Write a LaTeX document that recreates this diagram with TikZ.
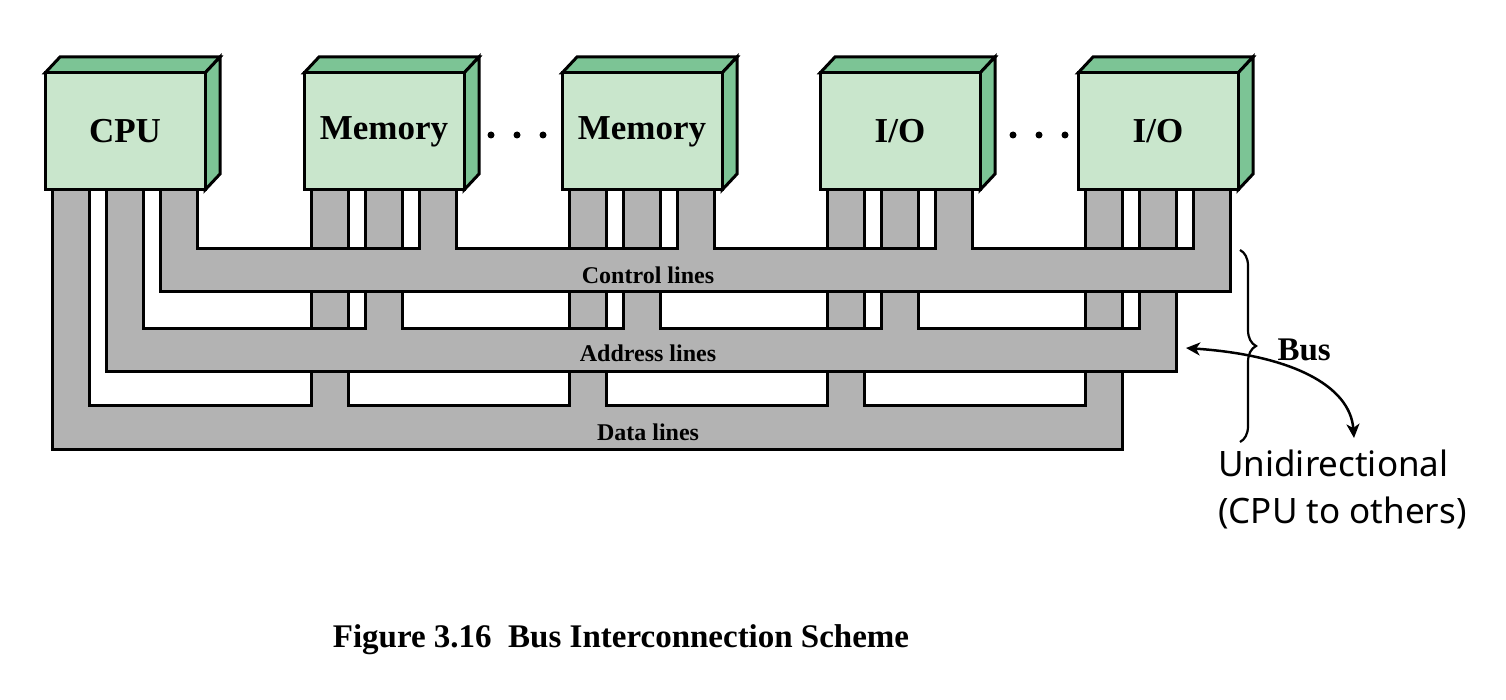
\documentclass[tikz,border=0pt]{standalone}
\usepackage{fontspec}
\setmainfont{Liberation Serif}
\newfontfamily\uni{Noto Sans}
\usetikzlibrary{decorations.pathreplacing,arrows.meta}
\definecolor{front}{HTML}{C9E6CC}
\definecolor{side}{HTML}{7CC495}
\definecolor{busgray}{HTML}{B3B3B3}
\begin{document}
\begin{tikzpicture}[x=1pt,y=-1pt,
  module/.style={draw=black,line width=3pt,fill=front,minimum width=160pt,minimum height=117pt,inner sep=0pt,font=\bfseries\fontsize{35}{35}\selectfont},
  face/.style={draw=black,line width=3pt,fill=side,line join=miter},
  busline/.style={font=\bfseries\fontsize{24}{24}\selectfont},
  dot/.style={circle,fill=black,inner sep=0pt,minimum size=7pt}]
\path[use as bounding box] (0,0) rectangle (1506,700);
% buses: offset, top, bottom
\foreach \o/\ya/\yb in {9/407/448, 63/330/370, 117/250/290}{
  \foreach \pass in {1,2}{
    \ifnum\pass=1 \tikzset{bp/.style={draw=black,line width=6pt}}\else\tikzset{bp/.style={fill=busgray}}\fi
    \path[bp] (45+\o,\ya) rectangle (1078+\o+34,\yb);
    \foreach \m in {45,304,562,820,1078}{
      \path[bp] (\m+\o,185) rectangle (\m+\o+34,\ya+6);
    }
  }
}
\node[busline] (ctl) at (648,275) {Control lines};
\node[busline] (adr) at (648,353) {Address lines};
\node[busline] (dat) at (648,432) {Data lines};
% modules
\foreach \n/\x/\t in {cpu/45/{CPU}, mem1/304/{Memory}, mem2/562/{Memory}, io1/820/{I/O}, io2/1078/{I/O}}{
  \draw[face] (\x,73) -- (\x+15,57) -- (\x+175,57) -- (\x+160,73) -- cycle;
  \draw[face] (\x+160,73) -- (\x+175,57) -- (\x+175,174) -- (\x+160,190) -- cycle;
  \node[module] (\n) at (\x+80,131.5) {\t};
}
\foreach \n/\x in {a/491,b/517,c/543,d/1013,e/1039,f/1065}{
  \node[dot] (dot\n) at (\x,135) {};
}
% brace
\coordinate (bt) at (1240,250);
\coordinate (bb) at (1240,442);
\draw[line width=2.2pt,decorate,decoration={brace,amplitude=16pt}] (bt) -- (bb);
\node[anchor=west,font=\bfseries\fontsize{33}{33}\selectfont] (bus) at (1274,350) {Bus};
% arrow
\coordinate (a1) at (1186,348);
\coordinate (a2) at (1354,438);
\draw[line width=2.5pt,{Stealth[length=14pt,width=13pt,inset=4pt]}-{Stealth[length=14pt,width=13pt,inset=4pt]}] (a1) .. controls (1290,355) and (1350,385) .. (a2);
\node[anchor=north west,align=left,font=\uni\fontsize{35}{47}\selectfont,inner sep=0pt] (uni) at (1218,450) {Unidirectional\\(CPU to others)};
\node[font=\bfseries\fontsize{33}{33}\selectfont] (cap) at (621,640) {Figure 3.16\ \ Bus Interconnection Scheme};
\end{tikzpicture}
\end{document}
